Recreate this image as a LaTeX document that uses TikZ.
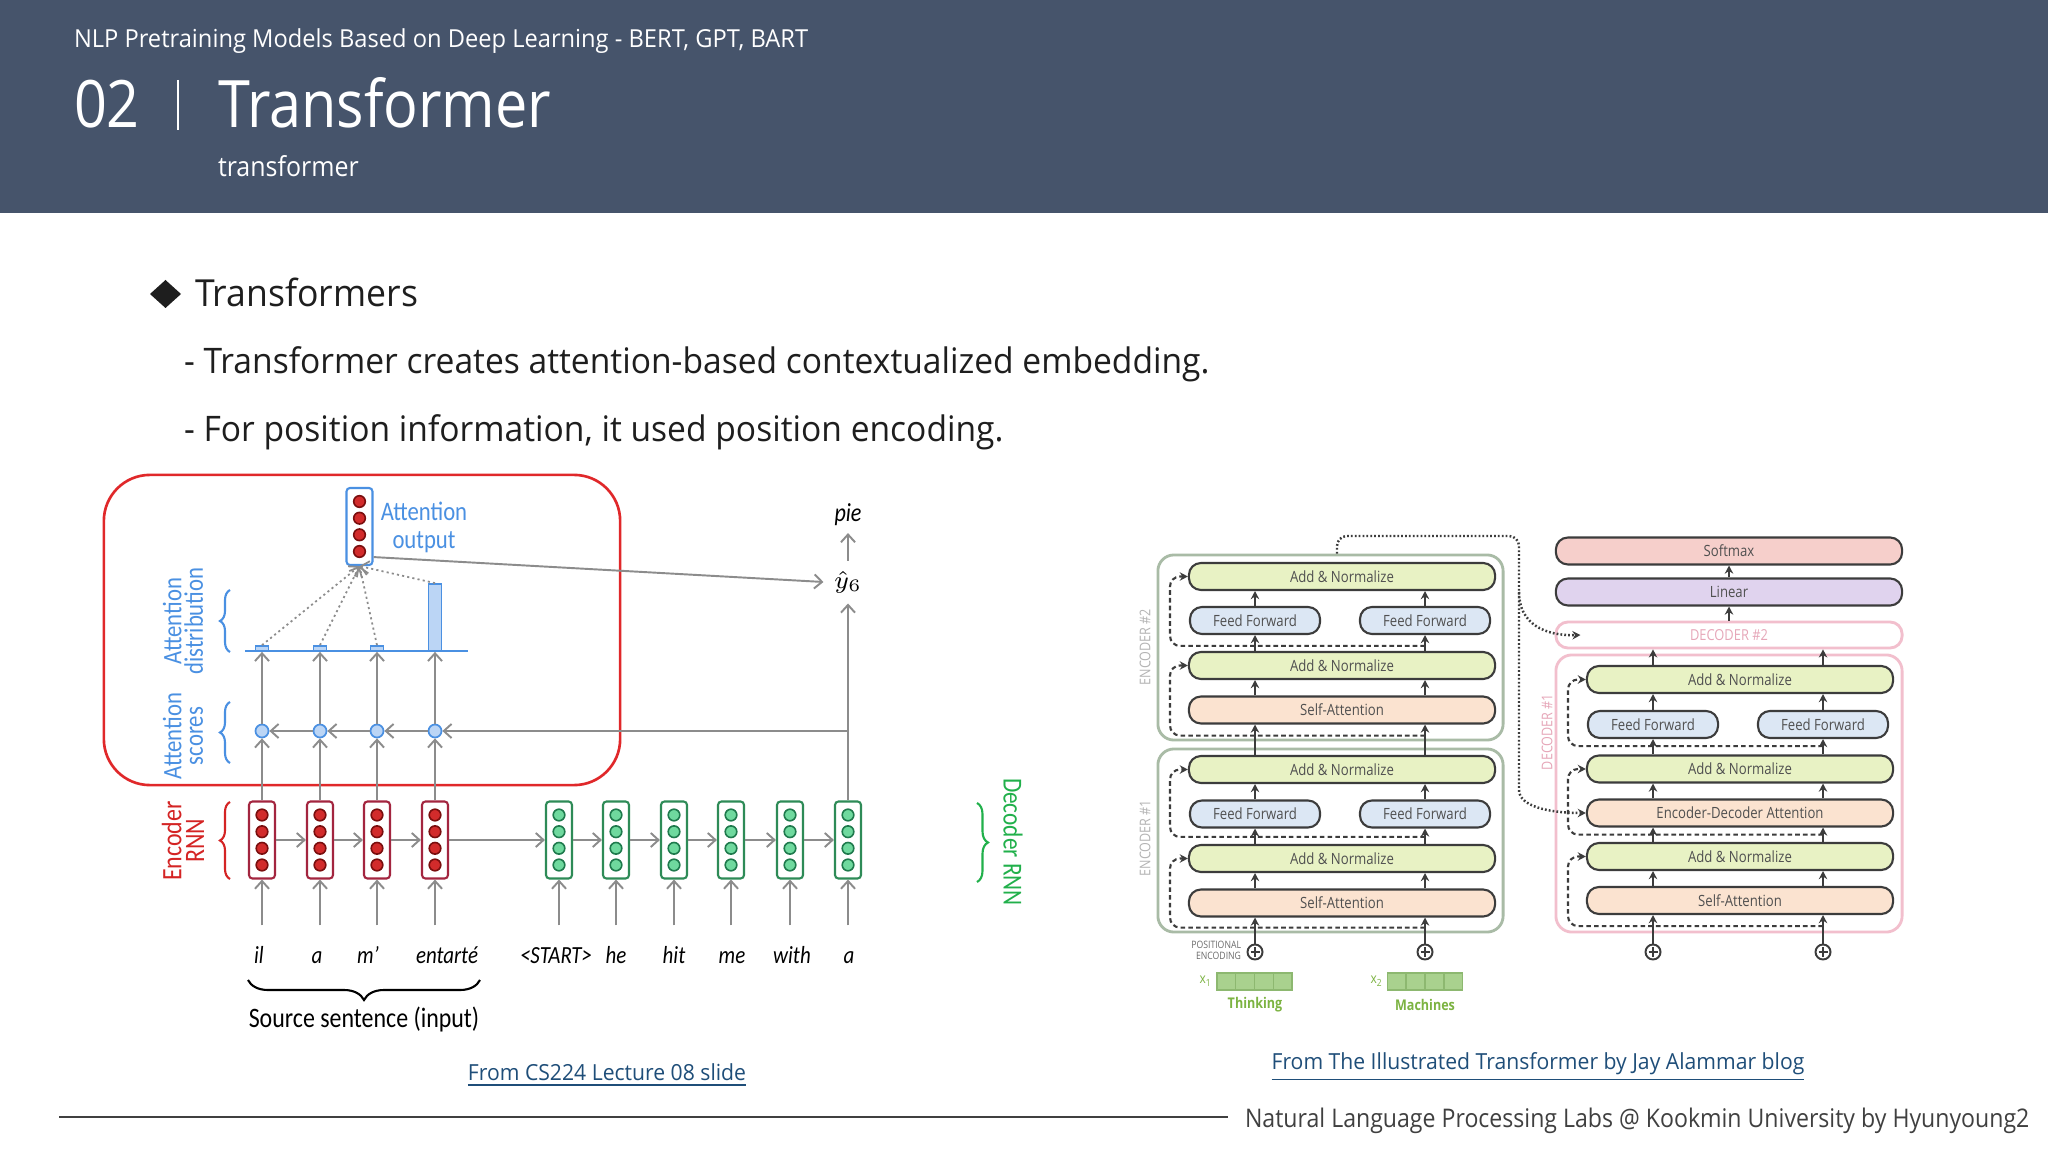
\documentclass[tikz,border=0pt]{standalone}
\usepackage{fontspec}
\setmainfont{Open Sans}[FakeStretch=0.955]
\newfontfamily\hdrfont{Open Sans}[FakeStretch=0.88]
\newfontfamily\subfont{Open Sans}[FakeStretch=0.91]
\newfontfamily\footfont{Open Sans}[FakeStretch=0.90]
\newfontfamily\figfont{Carlito}[FakeStretch=0.85]
\newfontfamily\boxfont{Open Sans}[FakeStretch=0.85]
\usetikzlibrary{arrows.meta,decorations.pathreplacing,calc}
\definecolor{hdr}{RGB}{70,84,107}
\definecolor{bodytxt}{HTML}{1E1E1E}
\definecolor{linkc}{HTML}{1F4E79}
\definecolor{fblue}{HTML}{4A90E2}
\definecolor{fbluel}{HTML}{BBD5F5}
\definecolor{fred}{HTML}{E0282A}
\definecolor{encred}{HTML}{D42424}
\definecolor{encbox}{HTML}{A3253F}
\definecolor{encdot}{HTML}{D22B2B}
\definecolor{encdotd}{HTML}{7A0E0E}
\definecolor{decbox}{HTML}{2E8B57}
\definecolor{decdot}{HTML}{6FD99E}
\definecolor{decdotd}{HTML}{1F7A4D}
\definecolor{fgreen}{HTML}{21B04B}
\definecolor{agray}{HTML}{8C8C8C}
\definecolor{anfill}{HTML}{E8F2C4}
\definecolor{fffill}{HTML}{DCE7F4}
\definecolor{safill}{HTML}{FBE3D0}
\definecolor{smfill}{HTML}{F6CFCB}
\definecolor{lnfill}{HTML}{E0D3EE}
\definecolor{bline}{HTML}{3C3C3C}
\definecolor{btext}{HTML}{505050}
\definecolor{encc}{HTML}{A9BBA6}
\definecolor{decc}{HTML}{F2BFCD}
\definecolor{enclab}{HTML}{B4B4B4}
\definecolor{declab}{HTML}{E6A6B8}
\definecolor{xgreen}{HTML}{A9D18E}
\definecolor{xgreend}{HTML}{8DB870}
\definecolor{xlab}{HTML}{7CB342}
\definecolor{foot}{HTML}{404040}
\newcommand\fsz[2]{\fontsize{#1pt}{#2pt}\selectfont}
\newcommand\rnncell[5]{%
  \node[cellbox=#3] (#1) at (#2,840) {};
  \foreach \dy in {-25,-8.3,8.3,25}{\fill[#4, draw=#5, line width=0.45pt] ([shift={(0,\dy)}]#1.center) circle (0.058cm);}
}
\tikzset{
  txt/.style={inner sep=0pt, outer sep=0pt},
  garr/.style={draw=agray, line width=0.55pt, -{Straight Barb[length=2.2pt,width=4pt]}},
  gdot/.style={draw=agray, line width=0.5pt, dash pattern=on 0.6pt off 0.9pt, -{Straight Barb[length=2.2pt,width=4pt]}},
  cellbox/.style={draw=#1, line width=0.6pt, rounded corners=0.035cm, minimum width=0.26cm, minimum height=0.77cm, fill=white, inner sep=0pt},
  scorec/.style={circle, draw=fblue, fill=fbluel, line width=0.5pt, minimum size=0.13cm, inner sep=0pt},
  abar/.style={draw=fblue, fill=fbluel, line width=0.5pt, minimum width=0.13cm, inner sep=0pt},
  wordn/.style={font=\figfont\itshape\fsz{7}{8}, text height=1.5ex, text depth=0.3ex, inner xsep=0pt, inner ysep=2.5pt, anchor=base},
  flab/.style={txt, font=\figfont\fsz{7.6}{7.6}, align=center},
  rbox/.style={draw=bline, line width=0.6pt, rounded corners=0.12cm, minimum height=0.27cm, inner sep=0pt, font=\boxfont\fsz{4.4}{5}, text=btext},
  sarr/.style={draw=bline, line width=0.55pt, -{Stealth[length=2.3pt,width=2.4pt]}},
  dsh/.style={draw=bline, line width=0.6pt, dash pattern=on 1.3pt off 0.9pt, rounded corners=0.1cm, -{Stealth[length=2.3pt,width=2.4pt]}},
  dotl/.style={draw=bline, line width=0.7pt, dash pattern=on 0.5pt off 0.6pt, rounded corners=0.1cm},
  cont/.style={line width=0.8pt, rounded corners=0.16cm, inner sep=0pt},
  pec/.style={circle, draw=bline, line width=0.55pt, minimum size=0.15cm, inner sep=0pt,
    path picture={\draw[bline, line width=0.5pt] ($(path picture bounding box.north)+(0,3)$) -- ($(path picture bounding box.south)+(0,-3)$) ($(path picture bounding box.west)+(3,0)$) -- ($(path picture bounding box.east)+(-3,0)$);}},
  xvec/.style={draw=xgreend, fill=xgreen, line width=0.4pt, minimum width=0.75cm, minimum height=0.17cm, inner sep=0pt},
}
\begin{document}
\begin{tikzpicture}[x=0.01cm,y=-0.01cm]
\useasboundingbox (0,0) rectangle (2048,1152);
\fill[white] (0,0) rectangle (2048,1152);
% ---------------- header
\fill[hdr] (0,0) rectangle (2048,213);
\node[txt, anchor=base west, text=white, font=\fsz{7.05}{8}] (sup) at (74,48) {NLP Pretraining Models Based on Deep Learning - BERT, GPT, BART};
\node[txt, anchor=base west, text=white, font=\hdrfont\fsz{18.6}{20}] (num) at (74,128) {02};
\draw[white, line width=0.5pt] (178,80) -- (178,130);
\node[txt, anchor=base west, text=white, font=\hdrfont\fsz{18.6}{20}] (ttl) at (218,128) {Transformer};
\node[txt, anchor=base west, text=white, font=\subfont\fsz{7.8}{9}] (sub) at (218,177) {transformer};
% ---------------- body text
\fill[bodytxt] (165.5,280) -- (181,294) -- (165.5,308) -- (150,294) -- cycle;
\node[txt, anchor=base west, text=bodytxt, font=\fsz{10.6}{12}] (b0) at (195,307) {Transformers};
\node[txt, anchor=base west, text=bodytxt, font=\fsz{10}{12}] (b1) at (184,374) {- Transformer creates attention-based contextualized embedding.};
\node[txt, anchor=base west, text=bodytxt, font=\fsz{10}{12}] (b2) at (184,442) {- For position information, it used position encoding.};
% ---------------- footer
\draw[foot, line width=0.5pt] (59,1117) -- (1228,1117);
\node[txt, anchor=base west, text=foot, font=\footfont\fsz{7.3}{8}] (ft) at (1245,1127) {Natural Language Processing Labs @ Kookmin University by Hyunyoung2};
\node[txt, anchor=base, text=linkc, font=\fsz{6.3}{7}] (lk1) at (607,1080) {\underline{From CS224 Lecture 08 slide}};
\node[txt, anchor=base, text=linkc, font=\fsz{6.3}{7}] (lk2) at (1538,1069) {\underline{From The Illustrated Transformer by Jay Alammar blog}};
% ================= LEFT FIGURE
\node[draw=fred, line width=0.75pt, rounded corners=0.46cm, minimum width=5.16cm, minimum height=3.1cm, inner sep=0pt] (attbox) at (362,630) {};
% rnn cells
\rnncell{e1}{262}{encbox}{encdot}{encdotd}
\rnncell{e2}{320}{encbox}{encdot}{encdotd}
\rnncell{e3}{377}{encbox}{encdot}{encdotd}
\rnncell{e4}{435}{encbox}{encdot}{encdotd}
\rnncell{d1}{559}{decbox}{decdot}{decdotd}
\rnncell{d2}{616}{decbox}{decdot}{decdotd}
\rnncell{d3}{674}{decbox}{decdot}{decdotd}
\rnncell{d4}{731}{decbox}{decdot}{decdotd}
\rnncell{d5}{790}{decbox}{decdot}{decdotd}
\rnncell{d6}{848}{decbox}{decdot}{decdotd}
% attention output
\node[cellbox=fblue] (aout) at (359.5,526.5) {};
\foreach \dy in {-25,-8.3,8.3,25}{\fill[encdot, draw=encdotd, line width=0.45pt] ([shift={(0,\dy)}]aout.center) circle (0.058cm);}
\node[flab, text=fblue, anchor=north] (aoutl) at (424,502) {Attention\\[0.3pt]output};
% attention distribution
\draw[fblue, line width=0.6pt] (245,651) -- (468,651);
\node[abar, minimum height=0.05cm] (b1) at (262,648.5) {};
\node[abar, minimum height=0.05cm] (b2) at (320,648.5) {};
\node[abar, minimum height=0.05cm] (b3) at (377,648.5) {};
\node[abar, minimum height=0.67cm] (b4) at (435,617.5) {};
% scores
\node[scorec] (s1) at (262,731) {};
\node[scorec] (s2) at (320,731) {};
\node[scorec] (s3) at (377,731) {};
\node[scorec] (s4) at (435,731) {};
\foreach \i in {1,2,3,4}{
  \draw[garr] (e\i.north) -- (s\i.south);
  \draw[garr] (s\i.north) -- (b\i.south);
  \draw[gdot] (b\i.north) -- (aout.south);
}
% output side
\node[txt, inner sep=3pt, font=\fsz{7}{8}] (yhat) at (848,582) {$\hat{y}_6$};
\node[txt, inner sep=2pt, font=\figfont\itshape\fsz{7.4}{8}] (pie) at (848,515) {pie};
\draw[garr] ($(aout.south east)+(0,-9)$) -- (yhat.west);
\draw[garr] (d6.north) -- (yhat.south);
\draw[garr] (yhat.north) -- (pie.south);
\coordinate (jn) at (d6.north |- s4);
\draw[garr] (jn) -- (s4.east);
\draw[garr] (s4.west) -- (s3.east);
\draw[garr] (s3.west) -- (s2.east);
\draw[garr] (s2.west) -- (s1.east);
% rnn chain
\draw[garr] (e1.east) -- (e2.west);
\draw[garr] (e2.east) -- (e3.west);
\draw[garr] (e3.east) -- (e4.west);
\draw[garr] (e4.east) -- (d1.west);
\draw[garr] (d1.east) -- (d2.west);
\draw[garr] (d2.east) -- (d3.west);
\draw[garr] (d3.east) -- (d4.west);
\draw[garr] (d4.east) -- (d5.west);
\draw[garr] (d5.east) -- (d6.west);
% words
\node[wordn] (w1) at (259,963) {il};
\node[wordn] (w2) at (317,963) {a};
\node[wordn] (w3) at (368,963) {m’};
\node[wordn] (w4) at (447,963) {entarté};
\node[wordn] (w5) at (556,963) {<START>};
\node[wordn] (w6) at (616,963) {he};
\node[wordn] (w7) at (674,963) {hit};
\node[wordn] (w8) at (732,963) {me};
\node[wordn] (w9) at (792,963) {with};
\node[wordn] (w10) at (849,963) {a};
\foreach \c/\w in {e1/w1,e2/w2,e3/w3,e4/w4,d1/w5,d2/w6,d3/w7,d4/w8,d5/w9,d6/w10}{
  \draw[garr] (\c.south |- \w.north) -- (\c.south);
}
% braces and labels
\draw[fblue, line width=0.6pt, decorate, decoration={brace, amplitude=0.1cm}] (230,652) -- (230,590);
\draw[fblue, line width=0.6pt, decorate, decoration={brace, amplitude=0.1cm}] (230,763) -- (230,702);
\draw[encred, line width=0.6pt, decorate, decoration={brace, amplitude=0.1cm}] (230,879) -- (230,802);
\draw[fgreen, line width=0.6pt, decorate, decoration={brace, amplitude=0.11cm}] (977,803) -- (977,882);
\draw[black, line width=0.6pt, decorate, decoration={brace, amplitude=0.2cm}] (480,980) -- (248,980);
\node[flab, text=fblue, rotate=90] (ldist) at (183,621) {Attention\\[-1.5pt]distribution};
\node[flab, text=fblue, rotate=90] (lsc) at (183,736) {Attention\\[-1.5pt]scores};
\node[flab, text=encred, rotate=90, font=\figfont\fsz{8}{8}] (lenc) at (183,841) {Encoder\\[-1.5pt]RNN};
\node[flab, text=fgreen, rotate=-90, font=\figfont\fsz{7.8}{8}] (ldec) at (1013,842) {Decoder RNN};
\node[txt, anchor=base, font=\figfont\fsz{8}{9}] (src) at (364,1027) {Source sentence (input)};
% ================= RIGHT FIGURE
\coordinate (ex1) at (1255,0); \coordinate (ex2) at (1425,0); \coordinate (exl) at (1170,0);
\coordinate (dx1) at (1653,0); \coordinate (dx2) at (1823,0); \coordinate (dxl) at (1568,0);
\node[cont, draw=encc, minimum width=3.45cm, minimum height=1.85cm] (ENC2) at (1330.5,647.5) {};
\node[cont, draw=encc, minimum width=3.45cm, minimum height=1.83cm] (ENC1) at (1330.5,840.5) {};
\node[cont, draw=decc, minimum width=3.46cm, minimum height=2.77cm] (DEC1) at (1729,793.5) {};
\node[cont, draw=decc, rounded corners=0.12cm, minimum width=3.46cm, minimum height=0.26cm, text=declab, font=\boxfont\fsz{4.3}{5}] (DEC2) at (1729,635) {DECODER \#2};
\node[txt, rotate=90, text=enclab, font=\boxfont\fsz{4.2}{5}] (lE2) at (1145,647) {ENCODER \#2};
\node[txt, rotate=90, text=enclab, font=\boxfont\fsz{4.2}{5}] (lE1) at (1145,838) {ENCODER \#1};
\node[txt, rotate=90, text=declab, font=\boxfont\fsz{4.2}{5}] (lD1) at (1547,732) {DECODER \#1};
% encoder 2
\node[rbox, fill=anfill, minimum width=3.06cm] (E2AN2) at (1342,576.5) {Add \& Normalize};
\node[rbox, fill=fffill, minimum width=1.30cm] (E2FFa) at (1255,620.5) {Feed Forward};
\node[rbox, fill=fffill, minimum width=1.30cm] (E2FFb) at (1425,620.5) {Feed Forward};
\node[rbox, fill=anfill, minimum width=3.06cm] (E2AN1) at (1342,665.5) {Add \& Normalize};
\node[rbox, fill=safill, minimum width=3.06cm] (E2SA) at (1342,710) {Self-Attention};
% encoder 1
\node[rbox, fill=anfill, minimum width=3.06cm] (E1AN2) at (1342,769.5) {Add \& Normalize};
\node[rbox, fill=fffill, minimum width=1.30cm] (E1FFa) at (1255,814) {Feed Forward};
\node[rbox, fill=fffill, minimum width=1.30cm] (E1FFb) at (1425,814) {Feed Forward};
\node[rbox, fill=anfill, minimum width=3.06cm] (E1AN1) at (1342,858.5) {Add \& Normalize};
\node[rbox, fill=safill, minimum width=3.06cm] (E1SA) at (1342,903) {Self-Attention};
% decoder
\node[rbox, fill=smfill, minimum width=3.46cm] (SM) at (1729,551) {Softmax};
\node[rbox, fill=lnfill, minimum width=3.46cm] (LIN) at (1729,592) {Linear};
\node[rbox, fill=anfill, minimum width=3.06cm] (D1AN3) at (1740,679.5) {Add \& Normalize};
\node[rbox, fill=fffill, minimum width=1.30cm] (D1FFa) at (1653,724.5) {Feed Forward};
\node[rbox, fill=fffill, minimum width=1.30cm] (D1FFb) at (1823,724.5) {Feed Forward};
\node[rbox, fill=anfill, minimum width=3.06cm] (D1AN2) at (1740,769) {Add \& Normalize};
\node[rbox, fill=safill, minimum width=3.06cm] (D1EDA) at (1740,813) {Encoder-Decoder Attention};
\node[rbox, fill=anfill, minimum width=3.06cm] (D1AN1) at (1740,856.5) {Add \& Normalize};
\node[rbox, fill=safill, minimum width=3.06cm] (D1SA) at (1740,900.5) {Self-Attention};
% solid arrows encoder
\foreach \x/\f in {ex1/a,ex2/b}{
  \draw[sarr] (E1SA.north -| \x) -- (E1AN1.south -| \x);
  \draw[sarr] (E1AN1.north -| \x) -- (E1FF\f.south);
  \draw[sarr] (E1FF\f.north) -- (E1AN2.south -| \x);
  \draw[sarr] (E1AN2.north -| \x) -- (E2SA.south -| \x);
  \draw[sarr] (E2SA.north -| \x) -- (E2AN1.south -| \x);
  \draw[sarr] (E2AN1.north -| \x) -- (E2FF\f.south);
  \draw[sarr] (E2FF\f.north) -- (E2AN2.south -| \x);
}
\foreach \x/\f in {dx1/a,dx2/b}{
  \draw[sarr] (D1SA.north -| \x) -- (D1AN1.south -| \x);
  \draw[sarr] (D1AN1.north -| \x) -- (D1EDA.south -| \x);
  \draw[sarr] (D1EDA.north -| \x) -- (D1AN2.south -| \x);
  \draw[sarr] (D1AN2.north -| \x) -- (D1FF\f.south);
  \draw[sarr] (D1FF\f.north) -- (D1AN3.south -| \x);
  \draw[sarr] (D1AN3.north -| \x) -- (DEC2.south -| \x);
}
\draw[sarr] (DEC2.north) -- (LIN.south);
\draw[sarr] (LIN.north) -- (SM.south);
% positional encodings
\node[pec] (pe1) at (1255,952) {};
\node[pec] (pe2) at (1425,952) {};
\node[pec] (pe3) at (1653,952) {};
\node[pec] (pe4) at (1823,952) {};
\draw[sarr] (pe1.north) -- (E1SA.south -| pe1);
\draw[sarr] (pe2.north) -- (E1SA.south -| pe2);
\draw[sarr] (pe3.north) -- (D1SA.south -| pe3);
\draw[sarr] (pe4.north) -- (D1SA.south -| pe4);
\node[txt, anchor=east, align=right, text=btext!85, font=\boxfont\fsz{2.9}{3.2}] (pel) at (1241,950) {POSITIONAL\\ENCODING};
% residual dashed
\draw[dsh] ($(E2SA.south -| ex2)+(0,11)$) -| (exl |- E2AN1.west) -- (E2AN1.west);
\draw[dsh] ($(E2AN1.north -| ex2)+(0,-5)$) -| (exl |- E2AN2.west) -- (E2AN2.west);
\draw[dsh] ($(E1SA.south -| ex2)+(0,10)$) -| (exl |- E1AN1.west) -- (E1AN1.west);
\draw[dsh] ($(E1AN1.north -| ex2)+(0,-7)$) -| (exl |- E1AN2.west) -- (E1AN2.west);
\draw[dsh] ($(D1SA.south -| dx2)+(0,11)$) -| (dxl |- D1AN1.west) -- (D1AN1.west);
\draw[dsh] ($(D1EDA.south -| dx2)+(0,7)$) -| (dxl |- D1AN2.west) -- (D1AN2.west);
\draw[dsh] ($(D1FFb.south)+(0,7)$) -| (dxl |- D1AN3.west) -- (D1AN3.west);
% encoder-decoder dotted
\coordinate (dsx) at (1337,0);
\coordinate (brn) at (1519,592);
\draw[dotl, -{Stealth[length=2.3pt,width=2.4pt]}] (ENC2.north -| dsx) -- (1337,536) -- (1519,536) -- (1519,780) .. controls (1519,806) and (1548,813) .. (D1EDA.west);
\draw[dotl, -{Stealth[length=2.3pt,width=2.4pt]}] (brn) .. controls (1519,624) and (1545,636) .. ($(DEC2.west)+(26,0)$);
% inputs
\node[xvec] (xv1) at (1254.5,981.5) {};
\node[xvec] (xv2) at (1425,981.5) {};
\foreach \v in {xv1,xv2}{\foreach \i in {1,2,3}{\draw[xgreend, line width=0.4pt] ($(\v.north west)!\i/4!(\v.north east)$) -- ($(\v.south west)!\i/4!(\v.south east)$);}}
\node[txt, text=xlab, font=\boxfont\fsz{4}{5}] (xl1) at (1206,981) {x\textsubscript{1}};
\node[txt, text=xlab, font=\boxfont\fsz{4}{5}] (xl2) at (1377,981) {x\textsubscript{2}};
\node[txt, text=xlab, font=\boxfont\bfseries\fsz{4.2}{5}] (th) at (1255,1005) {Thinking};
\node[txt, text=xlab, font=\boxfont\bfseries\fsz{4.2}{5}] (ma) at (1425,1005) {Machines};
\end{tikzpicture}
\end{document}
